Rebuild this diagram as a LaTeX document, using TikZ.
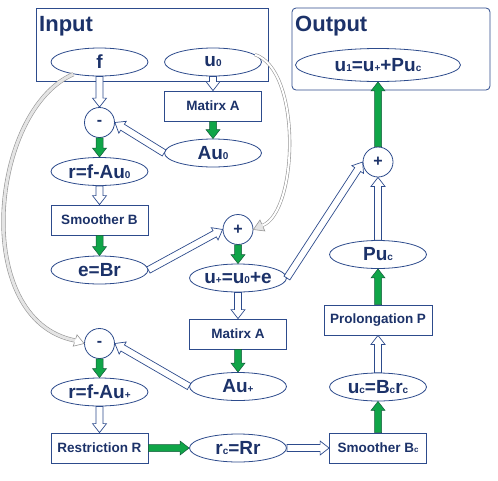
\documentclass[tikz,border=0pt]{standalone}
\usepackage{fontspec}
\setmainfont{Liberation Sans}
\usetikzlibrary{shapes.geometric,calc}
\definecolor{navy}{RGB}{28,50,105}
\definecolor{bord}{RGB}{45,75,140}
\definecolor{grn}{RGB}{16,165,72}
\definecolor{grnd}{RGB}{20,90,60}
\definecolor{gline}{RGB}{150,150,150}
\definecolor{gfill}{RGB}{228,228,228}
\newcommand\lw[1]{{\fontsize{10}{10}\selectfont #1}}
\newcommand\lws[1]{{\fontsize{8}{8}\selectfont #1}}
% straight block arrow: style, from, to
\newcommand\farrow[3]{%
  \path (#2) coordinate (fas) (#3) coordinate (fae);
  \path ($(fae)!9pt!(fas)$) coordinate (fah);
  \draw[#1] ($(fas)!3.5pt!90:(fae)$) -- ($(fah)!3.5pt!90:(fae)$) -- ($(fah)!7pt!90:(fae)$) -- (fae)
     -- ($(fah)!7pt!-90:(fae)$) -- ($(fah)!3.5pt!-90:(fae)$) -- ($(fas)!3.5pt!-90:(fae)$) -- cycle;
}
% arrow head for curved connectors: style, base, tip, notch half width
\newcommand\fhead[4]{%
  \path (#2) coordinate (fhb) (#3) coordinate (fht);
  \filldraw[#1] ($(fhb)!#4!90:(fht)$) -- ($(fhb)!6pt!90:(fht)$) -- (fht)
     -- ($(fhb)!6pt!-90:(fht)$) -- ($(fhb)!#4!-90:(fht)$);
}
\begin{document}
\begin{tikzpicture}[x=1pt,y=-1pt,
  frame/.style={draw=bord, line width=0.8pt, inner sep=0pt},
  title/.style={font=\fontsize{22}{22}\selectfont\bfseries, text=navy, inner sep=0pt},
  ell/.style={ellipse, draw=bord, fill=white, line width=0.8pt, minimum width=97pt, minimum height=28pt,
    inner xsep=-8pt, inner ysep=0pt, font=\fontsize{19}{19}\selectfont\bfseries, text=navy},
  box/.style={rectangle, draw=bord, fill=white, line width=0.8pt, minimum width=97pt, minimum height=30pt,
    inner xsep=2pt, font=\fontsize{13.5}{13.5}\selectfont\bfseries, text=navy},
  circ/.style={circle, draw=bord, fill=white, line width=0.8pt, minimum size=30pt, inner sep=0pt,
    font=\fontsize{16}{16}\selectfont\bfseries, text=navy},
  hol/.style={draw=bord, fill=white, line width=0.7pt, line join=miter},
  garr/.style={draw=grnd, fill=grn, line width=0.5pt, line join=miter},
  gshaftA/.style={draw=gline, line width=0.6pt, double=gfill, double distance=3pt},
  gshaftB/.style={draw=gline, line width=0.6pt, double=white, double distance=2pt},
  gheadA/.style={draw=gline, fill=white, line width=0.6pt, line join=miter},
  gheadB/.style={draw=gline, fill=gfill, line width=0.6pt, line join=miter}]
\useasboundingbox (0,0) rectangle (498,480);
% frames
\node[frame, minimum width=232pt, minimum height=73pt] (inbox) at (152,44.5) {};
\node[title, anchor=west] (intitle) at (39,26) {Input};
\node[frame, rounded corners=4pt, minimum width=198pt, minimum height=82pt] (outbox) at (391,49) {};
\node[title, anchor=west] (outtitle) at (295,26) {Output};
% column 1
\node[ell] (f) at (99.5,62) {f};
\node[circ] (m1) at (99.5,122.5) {-};
\node[ell] (r1) at (99.5,171.5) {r=f-Au\lw{0}};
\node[box] (SB) at (99.5,220) {Smoother B};
\node[ell] (eBr) at (99.5,270) {e=Br};
\node[circ] (m2) at (99.5,343.5) {-};
\node[ell] (r2) at (99.5,392) {r=f-Au\lw{+}};
\node[box] (RR) at (99.5,448) {Restriction R};
% column 2
\node[ell] (u0) at (213,62) {u\lw{0}};
\node[box] (MA1) at (213,106) {Matirx A};
\node[ell] (Au0) at (213,153) {Au\lw{0}};
\node[circ] (p1) at (238,229.5) {+};
\node[ell] (up) at (238,278) {u\lw{+}=u\lw{0}+e};
\node[box] (MA2) at (238,334) {Matirx A};
\node[ell] (Aup) at (238,386.5) {Au\lw{+}};
\node[ell] (rc) at (238,448) {r\lw{c}=Rr};
% column 3
\node[ell, minimum width=165pt, minimum height=33pt] (u1) at (378,65) {u\lw{1}=u\lw{+}+Pu\lw{c}};
\node[circ] (p2) at (378,162) {+};
\node[ell] (Puc) at (378,254.5) {Pu\lw{c}};
\node[box, minimum width=108pt] (PP) at (378,320) {Prolongation P};
\node[ell] (uc) at (378,387) {u\lw{c}=B\lw{c}r\lw{c}};
\node[box] (SBc) at (378,448) {Smoother B\lws{c}};
% curved grey connectors
\path ($(m2.west)+(-9,-3)$) coordinate (hbA);
\draw[gshaftA] (f.205) .. controls (-10,110) and (-30,320) .. (hbA);
\fhead{gheadA}{hbA}{m2.west}{2.1pt}
\path ($(p1.east)+(9,-4)$) coordinate (hbB);
\draw[gshaftB] (u0.10) .. controls (302,70) and (298,212) .. (hbB);
\fhead{gheadB}{hbB}{p1.east}{1.6pt}
% straight connectors
\farrow{hol}{f.south}{m1.north}
\farrow{hol}{u0.south}{MA1.north}
\farrow{garr}{MA1.south}{Au0.north}
\farrow{hol}{Au0.west}{m1.east}
\farrow{garr}{m1.south}{r1.north}
\farrow{hol}{r1.south}{SB.north}
\farrow{garr}{SB.south}{eBr.north}
\farrow{hol}{eBr.east}{p1.west}
\farrow{garr}{p1.south}{up.north}
\farrow{hol}{up.south}{MA2.north}
\farrow{garr}{MA2.south}{Aup.north}
\farrow{hol}{Aup.west}{m2.east}
\farrow{garr}{m2.south}{r2.north}
\farrow{hol}{r2.south}{RR.north}
\farrow{garr}{RR.east}{rc.west}
\farrow{hol}{rc.east}{SBc.west}
\farrow{garr}{SBc.north}{uc.south}
\farrow{hol}{uc.north}{PP.south}
\farrow{garr}{PP.north}{Puc.south}
\farrow{hol}{Puc.north}{p2.south}
\farrow{hol}{up.east}{p2.west}
\farrow{garr}{p2.north}{u1.south}
\end{tikzpicture}
\end{document}
